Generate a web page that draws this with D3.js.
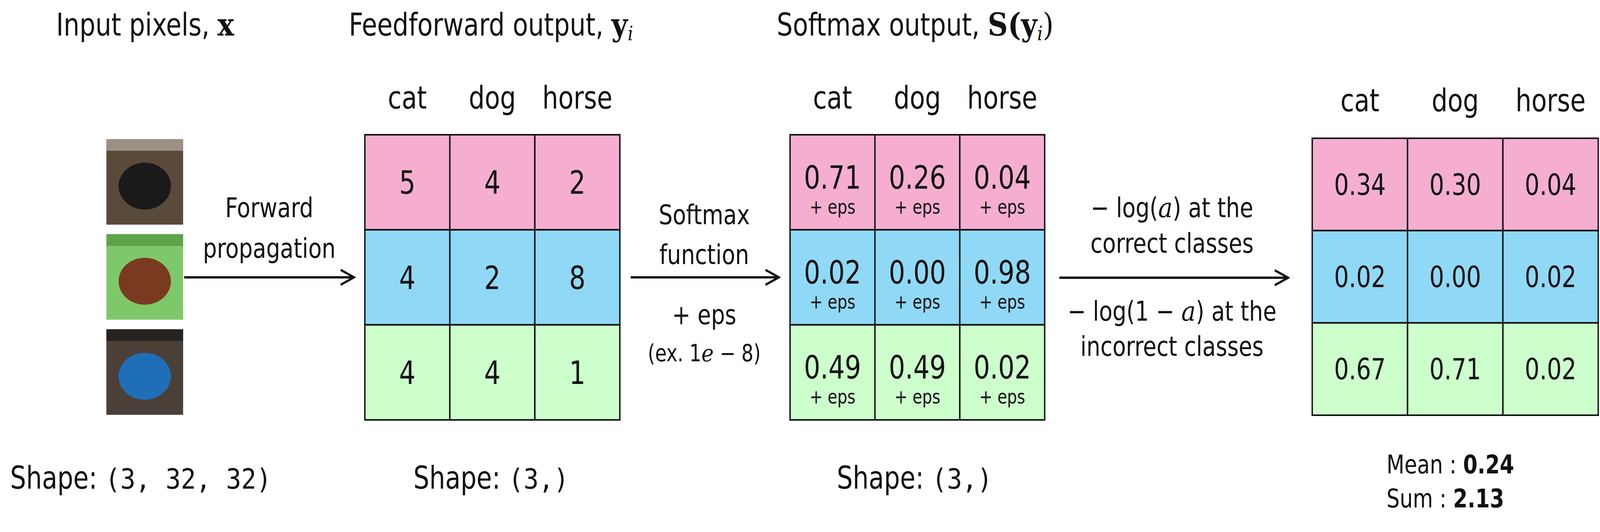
<!DOCTYPE html>
<html><head><meta charset="utf-8">
<script src="https://cdn.jsdelivr.net/npm/d3@7"></script>
<style>html,body{margin:0;padding:0;background:#fff;overflow:hidden}svg{display:block;width:100vw;height:100vh}text{font-family:"DejaVu Sans Condensed","Liberation Sans Narrow",sans-serif;fill:#111}</style>
</head><body><div id="chart"></div>
<script>
"use strict";

var classes = ["cat", "dog", "horse"];
var rowColors = ["#f5aed0", "#8fd9f7", "#ccffcc"];
var logits = [[5, 4, 2], [4, 2, 8], [4, 4, 1]];
var softmax = [["0.71", "0.26", "0.04"], ["0.02", "0.00", "0.98"], ["0.49", "0.49", "0.02"]];
var losses = [["0.34", "0.30", "0.04"], ["0.02", "0.00", "0.02"], ["0.67", "0.71", "0.02"]];
var meanLoss = "0.24", sumLoss = "2.13";

var width = 4587, height = 1362;
var svg = d3.select("#chart").append("svg")
    .attr("viewBox", "0 0 " + width + " " + height)
    .attr("preserveAspectRatio", "none");

svg.append("defs").append("marker").attr("id", "arr")
    .attr("viewBox", "0 0 10 10").attr("refX", 9).attr("refY", 5)
    .attr("markerWidth", 8).attr("markerHeight", 8).attr("orient", "auto")
    .append("path").attr("d", "M1,1 L9,5 L1,9").attr("fill", "none").attr("stroke", "#111").attr("stroke-width", 1.2);

function grid(x0, x1, y0, y1, values, fs, eps, headerY) {
    var x = d3.scaleBand().domain(classes).range([x0, x1]);
    var y = d3.scaleBand().domain(d3.range(3)).range([y0, y1]);
    var g = svg.append("g");
    g.selectAll(".hdr").data(classes).enter().append("text")
        .attr("x", d => x(d) + x.bandwidth() / 2).attr("y", headerY)
        .attr("text-anchor", "middle").attr("font-size", 80).text(d => d);
    values.forEach(function (row, i) {
        row.forEach(function (v, j) {
            g.append("rect").attr("x", x(classes[j])).attr("y", y(i))
                .attr("width", x.bandwidth()).attr("height", y.bandwidth())
                .attr("fill", rowColors[i]).attr("stroke", "#111").attr("stroke-width", 4);
            var cy = y(i) + y.bandwidth() / 2;
            g.append("text").attr("x", x(classes[j]) + x.bandwidth() / 2)
                .attr("y", eps ? cy + 16 : cy + fs * 0.36)
                .attr("text-anchor", "middle").attr("font-size", fs).text(v);
            if (eps) g.append("text").attr("x", x(classes[j]) + x.bandwidth() / 2)
                .attr("y", cy + 80).attr("text-anchor", "middle").attr("font-size", 50).text("+ eps");
        });
    });
}

grid(1046, 1777, 345, 1075, logits, 82, false, 278);
grid(2265, 2995, 345, 1075, softmax, 82, true, 278);
grid(3762, 4582, 354, 1063, losses, 74, false, 285);

// input thumbnails
var thumbs = [["#5a4a3a", "#1a1a1a", "#c8c0b8"], ["#7fc86a", "#7a3a20", "#4a8a3a"], ["#4a4038", "#1f6fb8", "#111111"]];
var ty = d3.scaleBand().domain(d3.range(3)).range([356, 1062]).paddingInner(0.1);
thumbs.forEach(function (c, i) {
    var g = svg.append("g");
    g.append("rect").attr("x", 305).attr("y", ty(i)).attr("width", 220).attr("height", ty.bandwidth()).attr("fill", c[0]);
    g.append("ellipse").attr("cx", 415).attr("cy", ty(i) + ty.bandwidth() * 0.55)
        .attr("rx", 75).attr("ry", 60).attr("fill", c[1]);
    g.append("rect").attr("x", 305).attr("y", ty(i)).attr("width", 220).attr("height", 30).attr("fill", c[2]).attr("opacity", 0.6);
});

function text(x, y, s, fs, anchor, weight) {
    return svg.append("text").attr("x", x).attr("y", y).attr("font-size", fs)
        .attr("text-anchor", anchor || "middle").attr("font-weight", weight || "normal").text(s);
}
function arrow(x0, x1, y) {
    svg.append("line").attr("x1", x0).attr("x2", x1).attr("y1", y).attr("y2", y)
        .attr("stroke", "#111").attr("stroke-width", 6).attr("marker-end", "url(#arr)");
}

// titles
var t1 = text(161, 91, "Input pixels, ", 80, "start");
t1.append("tspan").attr("font-family", "DejaVu Serif").attr("font-weight", "bold").text("x");
var t2 = text(1000, 91, "Feedforward output, ", 80, "start");
t2.append("tspan").attr("font-family", "DejaVu Serif").attr("font-weight", "bold").text("y");
t2.append("tspan").attr("font-family", "DejaVu Serif").attr("font-style", "italic").attr("font-size", 50).attr("dy", 12).text("i");
var t3 = text(2227, 91, "Softmax output, ", 80, "start");
t3.append("tspan").attr("font-family", "DejaVu Serif").attr("font-weight", "bold").text("S(y");
t3.append("tspan").attr("font-family", "DejaVu Serif").attr("font-style", "italic").attr("font-size", 50).attr("dy", 12).text("i");
t3.append("tspan").attr("font-family", "DejaVu Serif").attr("dy", -12).text(")");

// arrows and labels
arrow(528, 1015, 710);
text(772, 556, "Forward", 70);
text(772, 660, "propagation", 70);
arrow(1808, 2233, 710);
text(2019, 574, "Softmax", 70);
text(2019, 676, "function", 70);
text(2019, 830, "+ eps", 70);
var ex = text(2019, 925, "(ex. 1", 60);
ex.append("tspan").attr("font-family", "DejaVu Serif").attr("font-style", "italic").text("e");
ex.append("tspan").text(" \u2212 8)");
arrow(3037, 3693, 711);
var l1 = text(3360, 556, "\u2212 log(", 70);
l1.append("tspan").attr("font-family", "DejaVu Serif").attr("font-style", "italic").text("a");
l1.append("tspan").text(") at the");
text(3360, 647, "correct classes", 70);
var l2 = text(3360, 821, "\u2212 log(1 \u2212 ", 70);
l2.append("tspan").attr("font-family", "DejaVu Serif").attr("font-style", "italic").text("a");
l2.append("tspan").text(") at the");
text(3360, 911, "incorrect classes", 70);

// shapes
function shape(x, s) {
    var t = text(x, 1251, "Shape: ", 80, "start");
    t.append("tspan").attr("font-family", "DejaVu Sans Mono").attr("font-size", 72).text(s);
}
shape(29, "(3, 32, 32)");
shape(1185, "(3,)");
shape(2399, "(3,)");
var m = text(3975, 1212, "Mean : ", 66, "start");
m.append("tspan").attr("font-weight", "bold").text(meanLoss);
var s = text(3975, 1299, "Sum : ", 66, "start");
s.append("tspan").attr("font-weight", "bold").text(sumLoss);
</script></body></html>
